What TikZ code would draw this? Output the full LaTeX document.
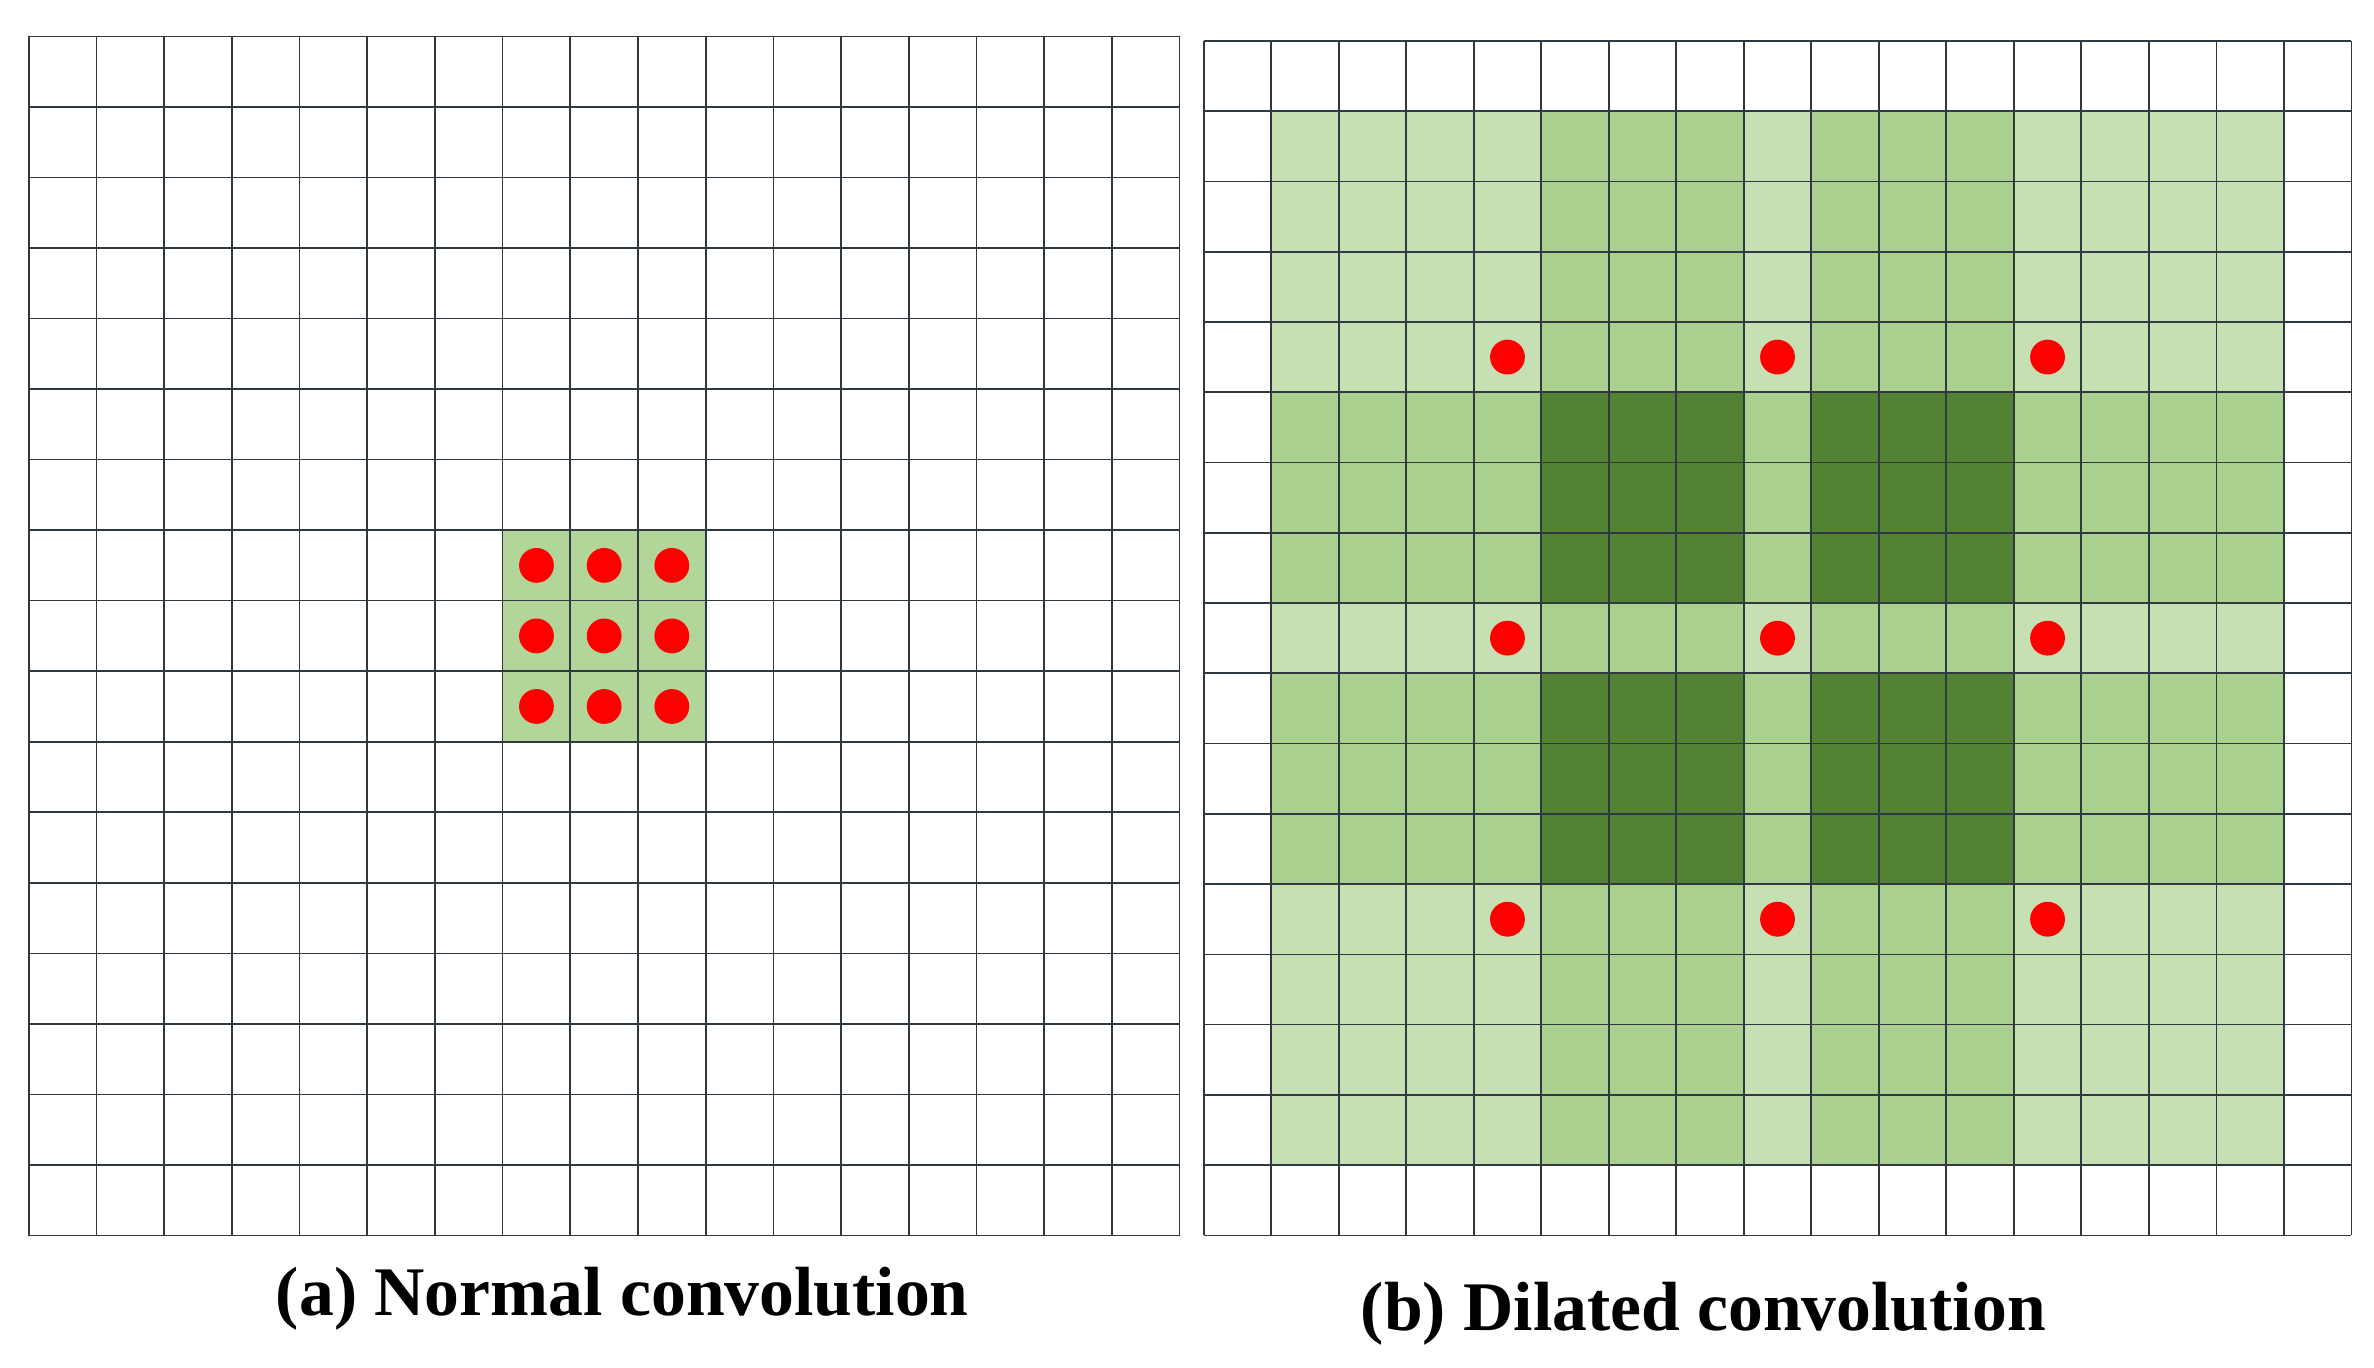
\documentclass[tikz,border=0pt]{standalone}
\usepackage{fontspec}
\setmainfont{Liberation Serif}
\definecolor{lg}{HTML}{C6E0B4}
\definecolor{mg}{HTML}{A9D08E}
\definecolor{dg}{HTML}{548235}
\definecolor{gl}{HTML}{303840}
\tikzset{gridline/.style={gl,line width=1.1pt},dot/.style={circle,fill=red,inner sep=0pt,minimum size=23pt},captext/.style={font=\fontsize{46}{50}\selectfont\bfseries}}
\begin{document}
\begin{tikzpicture}[x=1pt,y=-1pt]
\useasboundingbox (0,0) rectangle (1568,903);
% left grid
\def\lx{19}\def\ly{24}\def\lw{44.71}\def\lh{46.59}
\fill[mg!70!lg] (\lx+7*\lw,\ly+7*\lh) rectangle (\lx+10*\lw,\ly+10*\lh);
\foreach \i in {0,...,17}{
 \draw[gridline] (\lx+\i*\lw,\ly) -- (\lx+\i*\lw,\ly+17*\lh);
 \draw[gridline] (\lx,\ly+\i*\lh) -- (\lx+17*\lw,\ly+\i*\lh);}
\foreach \c in {7,8,9}\foreach \r in {7,8,9}
 \node[dot] (l\c\r) at (\lx+\c*\lw+0.5*\lw,\ly+\r*\lh+0.5*\lh) {};
% right grid
\def\rx{795}\def\ry{27}\def\rw{44.59}\def\rh{46.41}
\foreach \c in {1,...,15}\foreach \r in {1,...,15}{
 \pgfmathtruncatemacro\a{((\c>4)&&(\c<12)&&(\c!=8))?1:0}
 \pgfmathtruncatemacro\b{((\r>4)&&(\r<12)&&(\r!=8))?1:0}
 \pgfmathtruncatemacro\s{\a+\b}
 \ifcase\s \def\col{lg}\or \def\col{mg}\else \def\col{dg}\fi
 \fill[\col] (\rx+\c*\rw,\ry+\r*\rh) rectangle (\rx+\c*\rw+\rw,\ry+\r*\rh+\rh);}
\foreach \i in {0,...,17}{
 \draw[gridline] (\rx+\i*\rw,\ry) -- (\rx+\i*\rw,\ry+17*\rh);
 \draw[gridline] (\rx,\ry+\i*\rh) -- (\rx+17*\rw,\ry+\i*\rh);}
\foreach \c in {4,8,12}\foreach \r in {4,8,12}
 \node[dot] (r\c\r) at (\rx+\c*\rw+0.5*\rw,\ry+\r*\rh+0.5*\rh) {};
\node[captext] (ca) at (411,858) {(a) Normal convolution};
\node[captext] (cb) at (1125,868) {(b) Dilated convolution};
\end{tikzpicture}
\end{document}
